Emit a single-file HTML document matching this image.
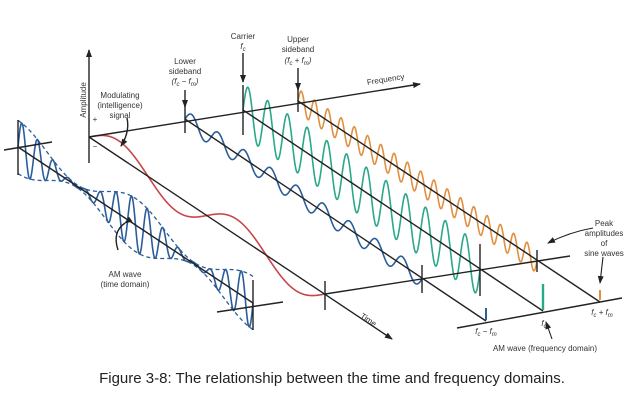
<!DOCTYPE html>
<html><head><meta charset="utf-8"><style>
html,body{margin:0;padding:0;background:#fff;}
svg{display:block;font-family:"Liberation Sans",Arial,sans-serif;}
</style></head><body>
<svg id="s" width="637" height="401" viewBox="0 0 637 401" xmlns="http://www.w3.org/2000/svg">
<defs>
<marker id="ah" markerWidth="8" markerHeight="8" refX="7" refY="4" orient="auto" markerUnits="userSpaceOnUse"><path d="M0,1 L8,4 L0,7 Z" fill="#222"/></marker>
</defs>
<g id="waves" fill="none" stroke-width="1.6"></g>
<g stroke="#222" stroke-width="1.4" fill="none">
<line x1="89" y1="163" x2="89" y2="50" marker-end="url(#ah)"/>
<line x1="89" y1="137" x2="420" y2="84" marker-end="url(#ah)"/>
<line x1="89" y1="137" x2="392" y2="339" marker-end="url(#ah)"/>
<line x1="185" y1="119" x2="486" y2="321"/>
<line x1="243" y1="110" x2="543" y2="311"/>
<line x1="298" y1="101" x2="600" y2="302"/>
<line x1="325" y1="294" x2="570" y2="256"/>
<line x1="457" y1="328" x2="622" y2="298"/>
<line x1="185" y1="105" x2="185" y2="133"/>
<line x1="243" y1="85" x2="243" y2="135"/>
<line x1="298" y1="88" x2="298" y2="112"/>
<line x1="325" y1="281" x2="325" y2="310"/>
<line x1="422" y1="265" x2="422" y2="293"/>
<line x1="480" y1="244" x2="480" y2="296"/>
<line x1="537" y1="250" x2="537" y2="272"/>
<line x1="18" y1="147" x2="253" y2="303"/>
<line x1="18" y1="120" x2="18" y2="175"/>
<line x1="4" y1="150" x2="52" y2="142"/>
<line x1="253" y1="280" x2="253" y2="330"/>
<line x1="217" y1="312" x2="283" y2="302"/>
<line x1="185" y1="90" x2="185" y2="107" marker-end="url(#ah)"/>
<line x1="243" y1="53" x2="243" y2="82" marker-end="url(#ah)"/>
<line x1="298" y1="68" x2="298" y2="90" marker-end="url(#ah)"/>
<path d="M127,118 Q130,132 121,146" marker-end="url(#ah)"/>
<path d="M125,223 Q112,232 118,250" marker-start="url(#ah)"/>
<path d="M593,228 Q570,232 548,243" stroke-width="1.1" marker-end="url(#ah)"/>
<path d="M603,257 L600,283" stroke-width="1.1" marker-end="url(#ah)"/>
<path d="M552,339 L546,322" stroke-width="1.1" marker-end="url(#ah)"/>
</g>
<line x1="486" y1="320" x2="486" y2="308" stroke="#2a5d9a" stroke-width="2"/>
<line x1="543" y1="310" x2="543" y2="284" stroke="#2aa88a" stroke-width="2.4"/>
<line x1="600" y1="300" x2="600" y2="290" stroke="#e09040" stroke-width="2"/>
<g fill="#333" font-size="8" text-anchor="middle">
<text x="120" y="98">Modulating</text>
<text x="120" y="108">(intelligence)</text>
<text x="120" y="118">signal</text>
<text x="185" y="64">Lower</text>
<text x="185" y="74">sideband</text>
<text x="185" y="84" font-style="italic">(f<tspan font-size="6" dy="2">c</tspan><tspan dy="-2"> − f</tspan><tspan font-size="6" dy="2">m</tspan><tspan dy="-2">)</tspan></text>
<text x="243" y="39">Carrier</text>
<text x="243" y="49" font-style="italic">f<tspan font-size="6" dy="2">c</tspan></text>
<text x="298" y="42">Upper</text>
<text x="298" y="52">sideband</text>
<text x="298" y="63" font-style="italic">(f<tspan font-size="6" dy="2">c</tspan><tspan dy="-2"> + f</tspan><tspan font-size="6" dy="2">m</tspan><tspan dy="-2">)</tspan></text>
<text x="125" y="277">AM wave</text>
<text x="125" y="287">(time domain)</text>
<text x="604" y="226">Peak</text>
<text x="604" y="236">amplitudes</text>
<text x="604" y="246">of</text>
<text x="604" y="256">sine waves</text>
<text x="486" y="334" font-style="italic">f<tspan font-size="6" dy="2">c</tspan><tspan dy="-2"> − f</tspan><tspan font-size="6" dy="2">m</tspan></text>
<text x="544" y="326" font-style="italic">f<tspan font-size="6" dy="2">c</tspan></text>
<text x="602" y="315" font-style="italic">f<tspan font-size="6" dy="2">c</tspan><tspan dy="-2"> + f</tspan><tspan font-size="6" dy="2">m</tspan></text>
<text x="545" y="351">AM wave (frequency domain)</text>
<text x="0" y="0" transform="translate(386,82) rotate(-9)">Frequency</text>
<text x="0" y="0" transform="translate(367,322) rotate(34)">Time</text>
<text x="0" y="0" transform="translate(86,100) rotate(-90)">Amplitude</text>
<text x="95" y="122">+</text>
<text x="95" y="149">−</text>
</g>
<text x="332" y="383" font-size="15" fill="#222" text-anchor="middle">Figure 3-8: The relationship between the time and frequency domains.</text>
</svg>
<script>
(function(){
var g=document.getElementById('waves');
function wave(ax,ay,bx,by,n,ampf,col){
  var d='',N=1200;
  for(var i=0;i<=N;i++){var t=i/N;var x=ax+(bx-ax)*t,y=ay+(by-ay)*t-ampf(t)*Math.sin(2*Math.PI*n*t);
  d+=(i?'L':'M')+x.toFixed(2)+','+y.toFixed(2);}
  var p=document.createElementNS('http://www.w3.org/2000/svg','path');
  p.setAttribute('d',d);p.setAttribute('stroke',col);
  g.appendChild(p);
}
function env(ax,ay,bx,by,ampf,col,sgn){
  var d='',N=300;
  for(var i=0;i<=N;i++){var t=i/N;var x=ax+(bx-ax)*t,y=ay+(by-ay)*t-sgn*ampf(t);
  d+=(i?'L':'M')+x.toFixed(2)+','+y.toFixed(2);}
  var p=document.createElementNS('http://www.w3.org/2000/svg','path');
  p.setAttribute('d',d);p.setAttribute('stroke',col);p.setAttribute('stroke-dasharray','4,3');p.setAttribute('stroke-width','1.3');
  g.appendChild(p);
}
wave(89,137,325,294,2,function(){return 16;},'#c8464a');
wave(185,119,422,279,9,function(){return 9;},'#2a5d9a');
wave(243,110,480,270,12,function(){return 26;},'#2aa88a');
wave(298,101,537,261,18,function(){return 12;},'#e09040');
var am=function(t){return 14*(1+0.9*Math.cos(4*Math.PI*t));};
wave(18,147,253,303,15,am,'#2a5d9a');
env(18,147,253,303,am,'#2a5d9a',1);
env(18,147,253,303,am,'#2a5d9a',-1);
})();
</script>
</body></html>
